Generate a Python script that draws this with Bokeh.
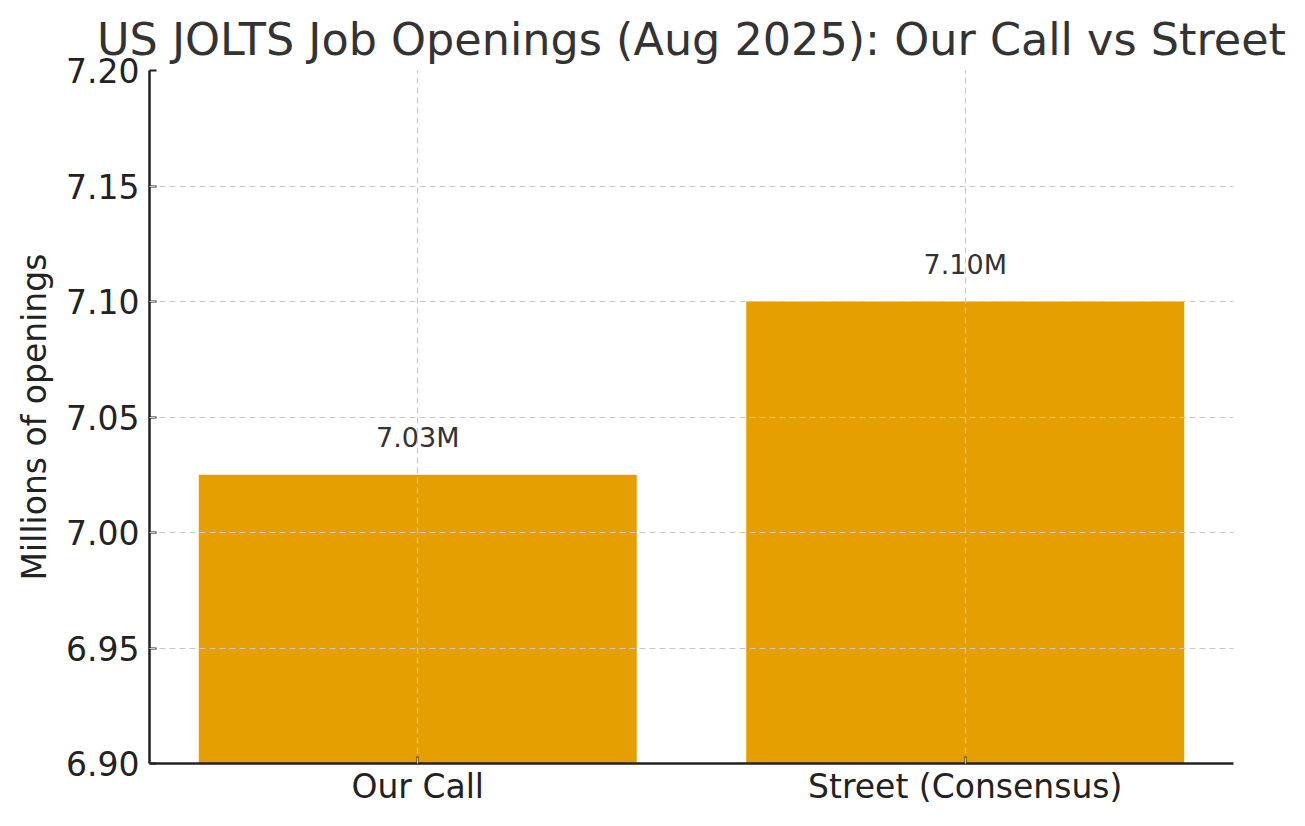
from bokeh.plotting import figure
from bokeh.models import FactorRange, Range1d, FixedTicker, NumeralTickFormatter
from bokeh.core.properties import value
from bokeh.embed import file_html
from bokeh.resources import INLINE

categories = ["Our Call", "Street (Consensus)"]
openings = [7.025, 7.10]
bar_labels = ["7.03M", "7.10M"]
y_ticks = [6.90, 6.95, 7.00, 7.05, 7.10, 7.15, 7.20]

FONT = "DejaVu Sans"

p = figure(
    x_range=FactorRange(factors=categories, range_padding=-0.01),
    y_range=Range1d(6.90, 7.20),
    width=1289, height=810,
    title="US JOLTS Job Openings (Aug 2025): Our Call vs Street",
    output_backend="svg", toolbar_location=None,
    min_border_left=149, min_border_right=56,
    min_border_top=70, min_border_bottom=47,
)

p.vbar(x=categories, top=openings, bottom=0, width=0.8,
       fill_color="#E69F00", line_color=None)

p.text(x=categories, y=openings, text=bar_labels, y_offset=-37,
       text_align="center", text_baseline="alphabetic",
       text_font_size="27px", text_color="#333333", text_font=value(FONT))

# title
p.title.align = "center"
p.title.text_font = FONT
p.title.text_font_size = "44.5px"
p.title.text_font_style = "normal"
p.title.text_color = "#333333"
p.title.standoff = 11

p.outline_line_color = None
p.background_fill_color = "white"

# axes
for ax in (p.xaxis[0], p.yaxis[0]):
    ax.axis_line_color = "#222222"
    ax.axis_line_width = 2.5
    ax.major_tick_line_color = "#222222"
    ax.major_tick_line_width = 2
    ax.major_tick_in = 7
    ax.major_tick_out = 0
    ax.minor_tick_line_color = None
    ax.major_label_text_font = FONT
    ax.major_label_text_font_size = "33px"
    ax.major_label_text_color = "#222222"
    ax.axis_label_text_font = FONT
    ax.axis_label_text_font_size = "33px"
    ax.axis_label_text_font_style = "normal"
    ax.axis_label_text_color = "#222222"

p.yaxis.ticker = FixedTicker(ticks=y_ticks)
p.yaxis.formatter = NumeralTickFormatter(format="0.00")
p.yaxis.axis_label = "Millions of openings"
p.yaxis.major_label_standoff = 10
p.yaxis.axis_label_standoff = 9
p.xaxis.major_label_standoff = 3

# dashed grid drawn over bars
for g in (p.xgrid[0], p.ygrid[0]):
    g.grid_line_color = "#c8c8c8"
    g.grid_line_dash = "6 4"
    g.grid_line_width = 1.2
    g.level = "guide"

open("out.html", "w").write(file_html(p, INLINE))
